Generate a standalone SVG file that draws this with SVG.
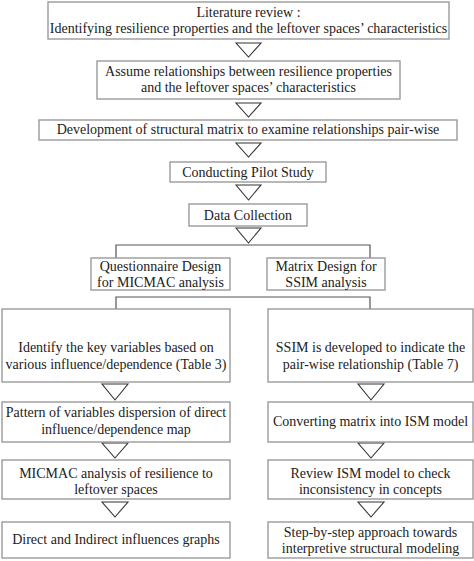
<svg xmlns="http://www.w3.org/2000/svg" width="474" height="561" viewBox="0 0 474 561">
<style>
.box{fill:#fff;stroke:#9a9a9a;stroke-width:1.4}
.t{font-family:"Liberation Serif","Times New Roman",serif;font-size:14px;fill:#222;text-anchor:middle}
.tri{fill:#fff;stroke:#333;stroke-width:1.1}
.ln{fill:none;stroke:#555;stroke-width:1.2}
</style>
<rect width="474" height="561" fill="#fff"/>
<g id="connectors">
<polygon class="tri" points="236,43 261,43 248.5,57"/>
<polygon class="tri" points="236,103 261,103 248.5,117"/>
<polygon class="tri" points="236,143 261,143 248.5,157"/>
<polygon class="tri" points="236,185 261,185 248.5,200"/>
<polygon class="tri" points="236,228 261,228 248.5,243"/>
<polyline class="ln" points="116,258 116,245 370,245 370,258"/>
<polyline class="ln" points="116,309 116,297 370,297 370,309"/>
<polygon class="tri" points="102,384 128,384 115,400"/>
<polygon class="tri" points="358,384 384,384 371,400"/>
<polygon class="tri" points="102,443 128,443 115,458"/>
<polygon class="tri" points="358,443 384,443 371,458"/>
<polygon class="tri" points="102,502 128,502 115,517"/>
<polygon class="tri" points="358,502 384,502 371,517"/>
</g>
<g id="n1"><rect class="box" x="48" y="2" width="401" height="37"/>
<text class="t" x="248.5" y="17">Literature review :</text>
<text class="t" x="248.5" y="33">Identifying resilience properties and the leftover spaces’ characteristics</text></g>
<g id="n2"><rect class="box" x="97" y="61" width="303" height="38"/>
<text class="t" x="248.5" y="76">Assume relationships between resilience properties</text>
<text class="t" x="248.5" y="92">and the leftover spaces’ characteristics</text></g>
<g id="n3"><rect class="box" x="39" y="120" width="418" height="20"/>
<text class="t" x="248" y="134">Development of structural matrix to examine relationships pair-wise</text></g>
<g id="n4"><rect class="box" x="170" y="162" width="156" height="20"/>
<text class="t" x="248" y="177">Conducting Pilot Study</text></g>
<g id="n5"><rect class="box" x="189" y="204" width="118" height="22"/>
<text class="t" x="248" y="220">Data Collection</text></g>
<g id="n6"><rect class="box" x="91" y="258" width="139" height="32"/>
<text class="t" x="160.5" y="271">Questionnaire Design</text>
<text class="t" x="160.5" y="287">for MICMAC analysis</text></g>
<g id="n7"><rect class="box" x="267" y="258" width="118" height="32"/>
<text class="t" x="326" y="271">Matrix Design for</text>
<text class="t" x="326" y="287">SSIM analysis</text></g>
<g id="n8"><rect class="box" x="2" y="309" width="228" height="73"/>
<text class="t" x="116" y="352">Identify the key variables based on</text>
<text class="t" x="116" y="369">various influence/dependence (Table 3)</text></g>
<g id="n9"><rect class="box" x="268" y="309" width="205" height="73"/>
<text class="t" x="370.5" y="352">SSIM is developed to indicate the</text>
<text class="t" x="370.5" y="369">pair-wise relationship (Table 7)</text></g>
<g id="n10"><rect class="box" x="2" y="402" width="228" height="40"/>
<text class="t" x="116" y="417">Pattern of variables dispersion of direct</text>
<text class="t" x="116" y="434">influence/dependence map</text></g>
<g id="n11"><rect class="box" x="268" y="402" width="205" height="40"/>
<text class="t" x="370.5" y="426">Converting matrix into ISM model</text></g>
<g id="n12"><rect class="box" x="2" y="460" width="228" height="39"/>
<text class="t" x="116" y="478">MICMAC analysis of resilience to</text>
<text class="t" x="116" y="494">leftover spaces</text></g>
<g id="n13"><rect class="box" x="268" y="460" width="205" height="39"/>
<text class="t" x="370.5" y="478">Review ISM model to check</text>
<text class="t" x="370.5" y="494">inconsistency in concepts</text></g>
<g id="n14"><rect class="box" x="2" y="522" width="228" height="36"/>
<text class="t" x="116" y="544">Direct and Indirect influences graphs</text></g>
<g id="n15"><rect class="box" x="268" y="522" width="205" height="36"/>
<text class="t" x="370.5" y="537">Step-by-step approach towards</text>
<text class="t" x="370.5" y="553">interpretive structural modeling</text></g>
</svg>
